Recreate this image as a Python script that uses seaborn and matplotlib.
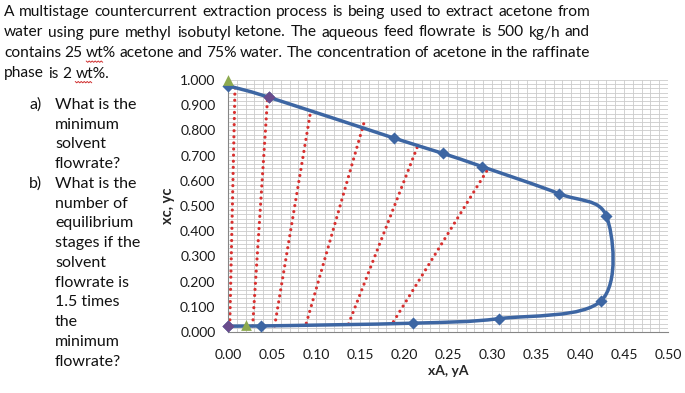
import numpy as np
import pandas as pd
import matplotlib
matplotlib.use("Agg")
import matplotlib.pyplot as plt
from matplotlib.path import Path
from matplotlib.patches import PathPatch
from matplotlib.lines import Line2D
from matplotlib.ticker import MultipleLocator, FormatStrFormatter
import seaborn as sns

# ---- text on the slide ----
para_lines = [
    "A multistage countercurrent extraction process is being used to extract acetone from",
    "water using pure methyl isobutyl ketone. The aqueous feed flowrate is 500 kg/h and",
    "contains 25 wt% acetone and 75% water. The concentration of acetone in the raffinate",
    "phase is 2 wt%.",
]
q_labels = ["a)", "b)"]
q_lines = [
    ["What is the", "minimum", "solvent", "flowrate?"],
    ["What is the", "number of", "equilibrium", "stages if the", "solvent",
     "flowrate is", "1.5 times", "the", "minimum", "flowrate?"],
]

# ---- chart data ----
# binodal curve, extract branch -> plait region -> raffinate branch
curve_xa = [0.000, 0.047, 0.189, 0.244, 0.289, 0.376, 0.430, 0.424, 0.308, 0.210, 0.038, 0.000]
curve_xc = [0.977, 0.931, 0.769, 0.709, 0.656, 0.549, 0.460, 0.124, 0.053, 0.035, 0.024, 0.024]

# tie lines (stage construction), raffinate end -> extract end
tie_raff_xa = [0.002, 0.028, 0.053, 0.089, 0.137, 0.188]
tie_raff_xc = [0.024, 0.024, 0.024, 0.035, 0.032, 0.041]
tie_ext_xa = [0.008, 0.045, 0.094, 0.156, 0.216, 0.296]
tie_ext_xc = [0.977, 0.931, 0.878, 0.848, 0.742, 0.650]

# solvent feed and raffinate spec
spec_xa = [0.000, 0.020]
spec_xc = [1.000, 0.026]
# highlighted ends
end_xa = [0.000, 0.047]
end_xc = [0.024, 0.931]

BLUE = "#3D66A3"
RED = "#D8302F"
GREEN = "#8DAA4F"
PURPLE = "#6A4C8C"
GRID = "#CBCBCB"

W, H = 685, 393
sns.set_theme(style="white")
plt.rcParams['font.family'] = ['Lato', 'DejaVu Sans']

fig = plt.figure(figsize=(W / 100, H / 100), dpi=100)
ax = fig.add_axes([228 / W, 1 - 332 / H, 440 / W, 252 / H])
ax.set_xlim(0, 0.5)
ax.set_ylim(0, 1.0)

# grid like the Excel sheet
ax.xaxis.set_major_locator(MultipleLocator(0.05))
ax.xaxis.set_minor_locator(MultipleLocator(0.01))
ax.yaxis.set_major_locator(MultipleLocator(0.1))
ax.yaxis.set_minor_locator(MultipleLocator(0.1 / 6))
ax.grid(True, which="both", color=GRID, lw=0.6)
ax.set_axisbelow(True)
ax.xaxis.set_major_formatter(FormatStrFormatter("%.2f"))
ax.yaxis.set_major_formatter(FormatStrFormatter("%.3f"))
ax.tick_params(axis="both", which="major", labelsize=10, length=4, color="#868686",
               direction="out", pad=5, colors="#1a1a1a")
ax.tick_params(axis="x", which="major", pad=8)
ax.tick_params(which="minor", length=0)
for side in ["top", "right"]:
    ax.spines[side].set_visible(False)
for side in ["left", "bottom"]:
    ax.spines[side].set_color("#868686")
    ax.spines[side].set_linewidth(0.8)

# tie lines, round dotted
ties = pd.DataFrame({
    "tie": np.repeat(np.arange(len(tie_raff_xa)), 2),
    "xa": np.ravel(np.column_stack([tie_raff_xa, tie_ext_xa])),
    "xc": np.ravel(np.column_stack([tie_raff_xc, tie_ext_xc])),
})
sns.lineplot(data=ties, x="xa", y="xc", units="tie", estimator=None, sort=False,
             color=RED, lw=2.3, linestyle=(0, (0.01, 1.9)), dash_capstyle="round",
             ax=ax, zorder=2)

# smoothed binodal curve (Excel "smoothed line" style, bezier through the points)
pts = np.column_stack([curve_xa, curve_xc])
n = len(pts)
verts = [pts[0]]
codes = [Path.MOVETO]
for i in range(n - 1):
    p0, p1 = pts[max(i - 1, 0)], pts[i]
    p2, p3 = pts[i + 1], pts[min(i + 2, n - 1)]
    verts += [p1 + (p2 - p0) / 6, p2 - (p3 - p1) / 6, p2]
    codes += [Path.CURVE4] * 3
ax.add_patch(PathPatch(Path(verts, codes), fill=False, edgecolor=BLUE, lw=2.5,
                       zorder=3, capstyle="round", joinstyle="round"))

sns.scatterplot(x=curve_xa, y=curve_xc, marker="D", s=38, color=BLUE, linewidth=0,
                ax=ax, zorder=4, clip_on=False)
sns.scatterplot(x=end_xa, y=end_xc, marker="D", s=38, color=PURPLE, linewidth=0,
                ax=ax, zorder=5, clip_on=False)
sns.scatterplot(x=spec_xa, y=spec_xc, marker="^", s=60, color=GREEN, linewidth=0,
                ax=ax, zorder=6, clip_on=False)

ax.set_xlabel("xA, yA", fontsize=10, fontweight="bold", labelpad=3)
ax.set_ylabel("xc, yc", fontsize=10.5, fontweight="bold", labelpad=4)

# ---- slide text ----
fig.canvas.draw()
rend = fig.canvas.get_renderer()


def px(x, y):
    return x / W, 1 - y / H


def text_w(s, size):
    t = fig.text(0, 0, s, fontsize=size)
    w = t.get_window_extent(rend).width
    t.remove()
    return w


# fit the paragraph font so the first line fills the width
x_left, x_right = 4, 590
size0 = 12
nat = text_w(para_lines[0], size0)
p_size = size0 * (x_right - x_left) / nat * 0.985
space_w = text_w("a a", p_size) - text_w("aa", p_size)

para_y = [12, 32.5, 53, 73.5]
for k, (line, y) in enumerate(zip(para_lines, para_y)):
    words = line.split(" ")
    widths = [text_w(w, p_size) for w in words]
    if k < len(para_lines) - 1:
        gap = (x_right - x_left - sum(widths)) / (len(words) - 1)
    else:
        gap = space_w
    x = x_left
    for w, wd in zip(words, widths):
        fig.text(*px(x, y), w, fontsize=p_size, va="center", ha="left", color="#111111")
        if w.startswith("wt%"):
            # spell-check squiggle under "wt"
            sw = text_w("wt", p_size)
            zx = np.arange(x, x + sw + 0.1, 1.5)
            zy = y + 8 + np.where(np.arange(len(zx)) % 2 == 0, 0, 1.3)
            fig.add_artist(Line2D(zx / W, 1 - zy / H, color="#D03030", lw=0.7))
        x += wd + gap

q_size = 11.5
q_y0, q_dy = 105, 19.75
row = 0
for lab, lines in zip(q_labels, q_lines):
    fig.text(*px(29, q_y0 + row * q_dy), lab, fontsize=q_size, va="center", color="#111111")
    for line in lines:
        fig.text(*px(55, q_y0 + row * q_dy), line, fontsize=q_size, va="center", color="#111111")
        row += 1

fig.savefig("out.png", dpi=100)
